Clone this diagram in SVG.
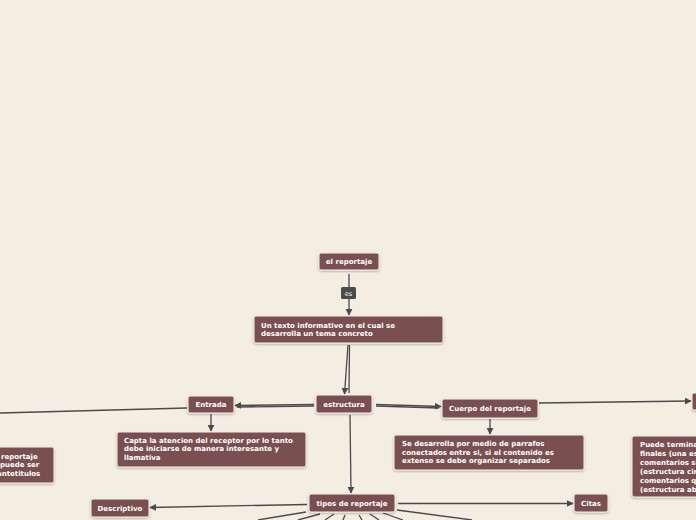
<svg xmlns="http://www.w3.org/2000/svg" width="696" height="520" viewBox="0 0 696 520">
<defs>
<style>
.n{fill:#7a4f4f;stroke:#f7f2ea;stroke-width:1}
.t{font-family:"DejaVu Sans",Verdana,sans-serif;font-weight:bold;font-size:7px;fill:#ffffff}
.c{stroke:#4a4a4a;stroke-width:1.3;fill:none}
.lbl{fill:#4b4b4b}
</style>
<marker id="a" viewBox="0 0 10 10" refX="9" refY="5" markerWidth="7" markerHeight="7" markerUnits="userSpaceOnUse" orient="auto">
<path d="M0,0L10,5L0,10z" fill="#4a4a4a"/>
</marker>
<filter id="s" x="-10%" y="-10%" width="120%" height="140%">
<feDropShadow dx="0" dy="1" stdDeviation="0.8" flood-color="#000" flood-opacity="0.3"/>
</filter>
</defs>
<rect width="696" height="520" fill="#f3ede2"/>
<g id="connectors">
<line class="c" x1="349" y1="274" x2="349" y2="315" marker-end="url(#a)"/>
<rect class="lbl" x="341" y="287" width="15" height="12" rx="1.5"/>
<text class="t" x="348.5" y="295.5" text-anchor="middle" style="font-weight:normal;font-size:6.5px">es</text>
<line class="c" x1="348" y1="345" x2="344.5" y2="394" marker-end="url(#a)"/>
<line class="c" x1="349.5" y1="345" x2="349" y2="393"/>
<line class="c" x1="314" y1="404.5" x2="235" y2="405.5" marker-end="url(#a)"/>
<line class="c" x1="314" y1="406" x2="237" y2="407"/>
<line class="c" x1="376" y1="404.5" x2="441" y2="406.5" marker-end="url(#a)"/>
<line class="c" x1="376" y1="406" x2="439" y2="408"/>
<line class="c" x1="211" y1="414" x2="211" y2="431" marker-end="url(#a)"/>
<line class="c" x1="490" y1="419" x2="490" y2="434" marker-end="url(#a)"/>
<line class="c" x1="539" y1="403" x2="691" y2="401" marker-end="url(#a)"/>
<line class="c" x1="187" y1="408" x2="0" y2="413"/>
<line class="c" x1="350" y1="415" x2="351" y2="493" marker-end="url(#a)"/>
<line class="c" x1="307" y1="504.5" x2="150" y2="507.5" marker-end="url(#a)"/>
<line class="c" x1="398" y1="503.5" x2="573" y2="503.5" marker-end="url(#a)"/>
<line class="c" x1="306" y1="512" x2="258" y2="520"/>
<line class="c" x1="320" y1="514" x2="298" y2="520"/>
<line class="c" x1="334" y1="514" x2="325" y2="520"/>
<line class="c" x1="345" y1="515" x2="343" y2="520"/>
<line class="c" x1="359" y1="515" x2="362" y2="520"/>
<line class="c" x1="370" y1="514" x2="379" y2="520"/>
<line class="c" x1="383" y1="513" x2="403" y2="520"/>
<line class="c" x1="397" y1="510" x2="472" y2="520"/>
</g>
<g id="n-el-reportaje">
<rect class="n" filter="url(#s)" x="319" y="253" width="60" height="17" rx="2"/>
<text class="t" x="349" y="264" text-anchor="middle">el reportaje</text>
</g>
<g id="n-texto">
<rect class="n" filter="url(#s)" x="254" y="316" width="189" height="27" rx="2"/>
<text class="t" x="261" y="327.5">Un texto informativo  en el cual se</text>
<text class="t" x="261" y="336">desarrolla un tema concreto</text>
</g>
<g id="n-estructura">
<rect class="n" filter="url(#s)" x="316" y="395" width="56" height="18" rx="2"/>
<text class="t" x="344" y="406.5" text-anchor="middle">estructura</text>
</g>
<g id="n-entrada">
<rect class="n" filter="url(#s)" x="188" y="396" width="46" height="17" rx="2"/>
<text class="t" x="211" y="407" text-anchor="middle">Entrada</text>
</g>
<g id="n-capta">
<rect class="n" filter="url(#s)" x="117" y="432" width="189" height="35" rx="2"/>
<text class="t" x="124" y="442.5">Capta la atencion del receptor por lo tanto</text>
<text class="t" x="124" y="451">debe iniciarse de manera interesante y</text>
<text class="t" x="124" y="459.5">llamativa</text>
</g>
<g id="n-cuerpo">
<rect class="n" filter="url(#s)" x="442" y="399" width="96" height="19" rx="2"/>
<text class="t" x="490" y="411" text-anchor="middle">Cuerpo del reportaje</text>
</g>
<g id="n-desarrolla">
<rect class="n" filter="url(#s)" x="394" y="435" width="190" height="35" rx="2"/>
<text class="t" x="402" y="446">Se desarrolla por medio de parrafos</text>
<text class="t" x="402" y="454.5">conectados entre si, si el contenido es</text>
<text class="t" x="402" y="463">extenso se debe organizar separados</text>
</g>
<g id="n-right">
<rect class="n" filter="url(#s)" x="692" y="393" width="10" height="17" rx="2"/>
</g>
<g id="n-puede">
<rect class="n" filter="url(#s)" x="632" y="436" width="70" height="61" rx="2"/>
<text class="t" x="640" y="447">Puede termina</text>
<text class="t" x="640" y="456">finales (una es</text>
<text class="t" x="640" y="465">comentarios si</text>
<text class="t" x="640" y="474">(estructura cir</text>
<text class="t" x="640" y="483">comentarios q</text>
<text class="t" x="640" y="492">(estructura ab</text>
</g>
<g id="n-left">
<rect class="n" filter="url(#s)" x="-10" y="447" width="64" height="36" rx="2"/>
<text class="t" x="1" y="458.5">reportaje</text>
<text class="t" x="0" y="467">puede ser</text>
<text class="t" x="-3" y="475.5">antetitulos</text>
</g>
<g id="n-tipos">
<rect class="n" filter="url(#s)" x="309" y="494" width="86" height="18" rx="2"/>
<text class="t" x="352" y="505.5" text-anchor="middle">tipos de reportaje</text>
</g>
<g id="n-descriptivo">
<rect class="n" filter="url(#s)" x="91" y="499" width="58" height="18" rx="2"/>
<text class="t" x="120" y="510.5" text-anchor="middle">Descriptivo</text>
</g>
<g id="n-citas">
<rect class="n" filter="url(#s)" x="574" y="494" width="34" height="18" rx="2"/>
<text class="t" x="591" y="505.5" text-anchor="middle">Citas</text>
</g>
</svg>
